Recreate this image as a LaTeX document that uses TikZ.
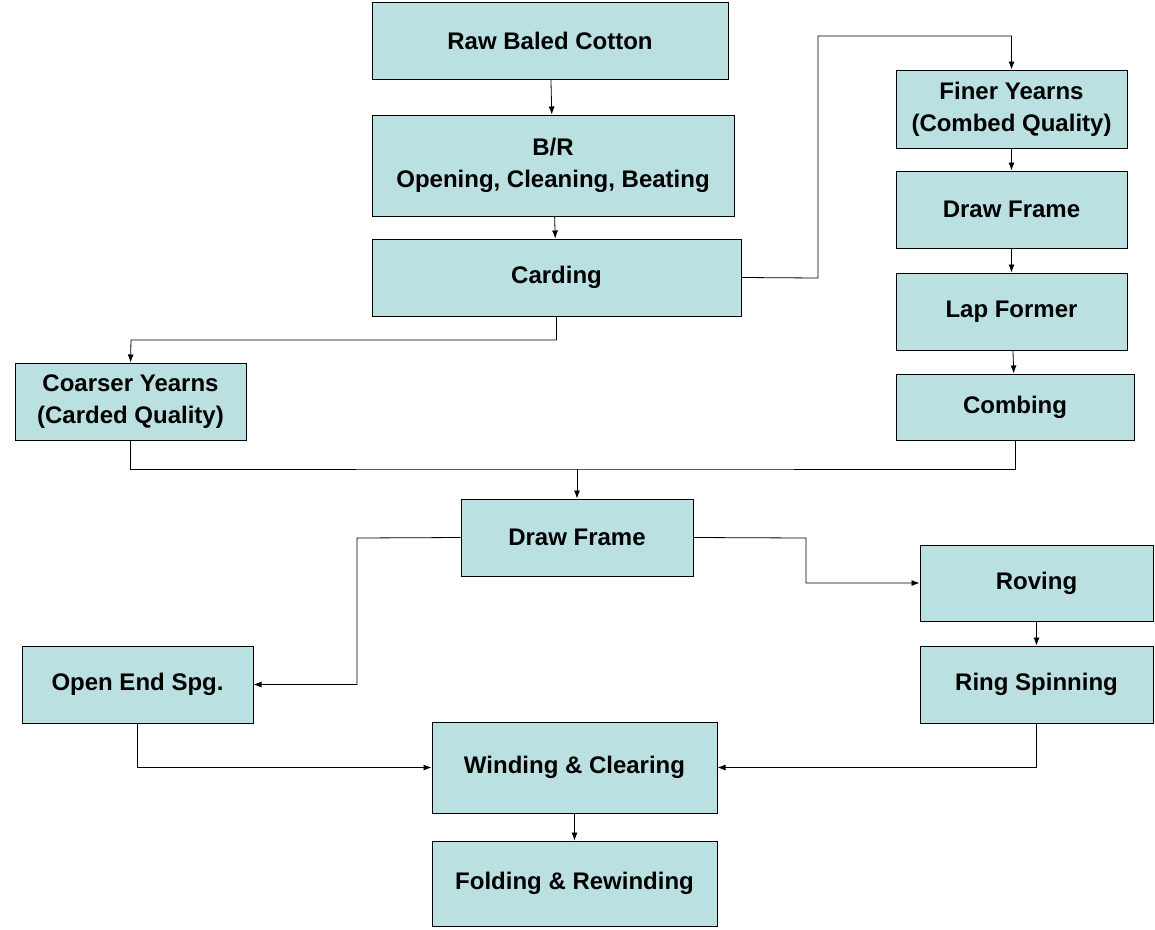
\documentclass[tikz,border=0pt]{standalone}
\usepackage{fontspec}
\setmainfont{Liberation Sans}
\usetikzlibrary{arrows.meta}
\definecolor{boxc}{HTML}{BAE0E2}
\begin{document}
\begin{tikzpicture}[x=1pt,y=-1pt,
  bx/.style={draw,fill=boxc,line width=1pt,font=\fontsize{24}{32}\selectfont\bfseries,align=center,inner sep=0pt},
  ar/.style={-{Latex[length=8pt,width=6pt]},line width=0.8pt},
  ln/.style={line width=0.8pt}]
\useasboundingbox (0,0) rectangle (1155,929);
\newcommand\bxx[6]{\node[bx,minimum width=#4-#2,minimum height=#5-#3] (#1) at ({(#2+#4)/2},{(#3+#5)/2}) {#6};}
\bxx{raw}{372}{2}{728}{79}{Raw Baled Cotton}
\bxx{br}{372}{115}{734}{216}{B/R\\Opening, Cleaning, Beating}
\bxx{card}{372}{239}{741}{316}{Carding}
\bxx{finer}{896}{70}{1127}{148}{Finer Yearns\\(Combed Quality)}
\bxx{dft}{896}{171}{1127}{248}{Draw Frame}
\bxx{lap}{896}{273}{1127}{350}{Lap Former}
\bxx{comb}{896}{374}{1134}{440}{Combing}
\bxx{coarse}{15}{363}{246}{440}{Coarser Yearns\\(Carded Quality)}
\bxx{df}{461}{499}{693}{576}{Draw Frame}
\bxx{rov}{920}{545}{1153}{621}{Roving}
\bxx{ring}{920}{646}{1153}{723}{Ring Spinning}
\bxx{oe}{22}{646}{253}{723}{Open End Spg.}
\bxx{wind}{432}{722}{717}{813}{Winding \& Clearing}
\bxx{fold}{432}{841}{717}{926}{Folding \& Rewinding}
\coordinate (j) at (577,469);
\draw[ar] (raw) -- (br);
\draw[ar] (br) -- (card);
\draw[ar] (card.east) -- (818,278) -- (818,36) -| (finer.north);
\draw[ar] (finer) -- (dft);
\draw[ar] (dft) -- (lap);
\draw[ar] (lap) -- (comb);
\draw[ar] (card.south) |- (131,340) -- (coarse.north);
\draw[ln] (coarse.south) |- (j) -| (comb.south);
\draw[ar] (j) -- (df.north);
\draw[ar] (df.east) -- (806,538) |- (rov.west);
\draw[ar] (df.west) -- (357,538) |- (oe.east);
\draw[ar] (rov) -- (ring);
\draw[ar] (oe.south) |- (wind.west);
\draw[ar] (ring.south) |- (wind.east);
\draw[ar] (wind) -- (fold);
\end{tikzpicture}
\end{document}
